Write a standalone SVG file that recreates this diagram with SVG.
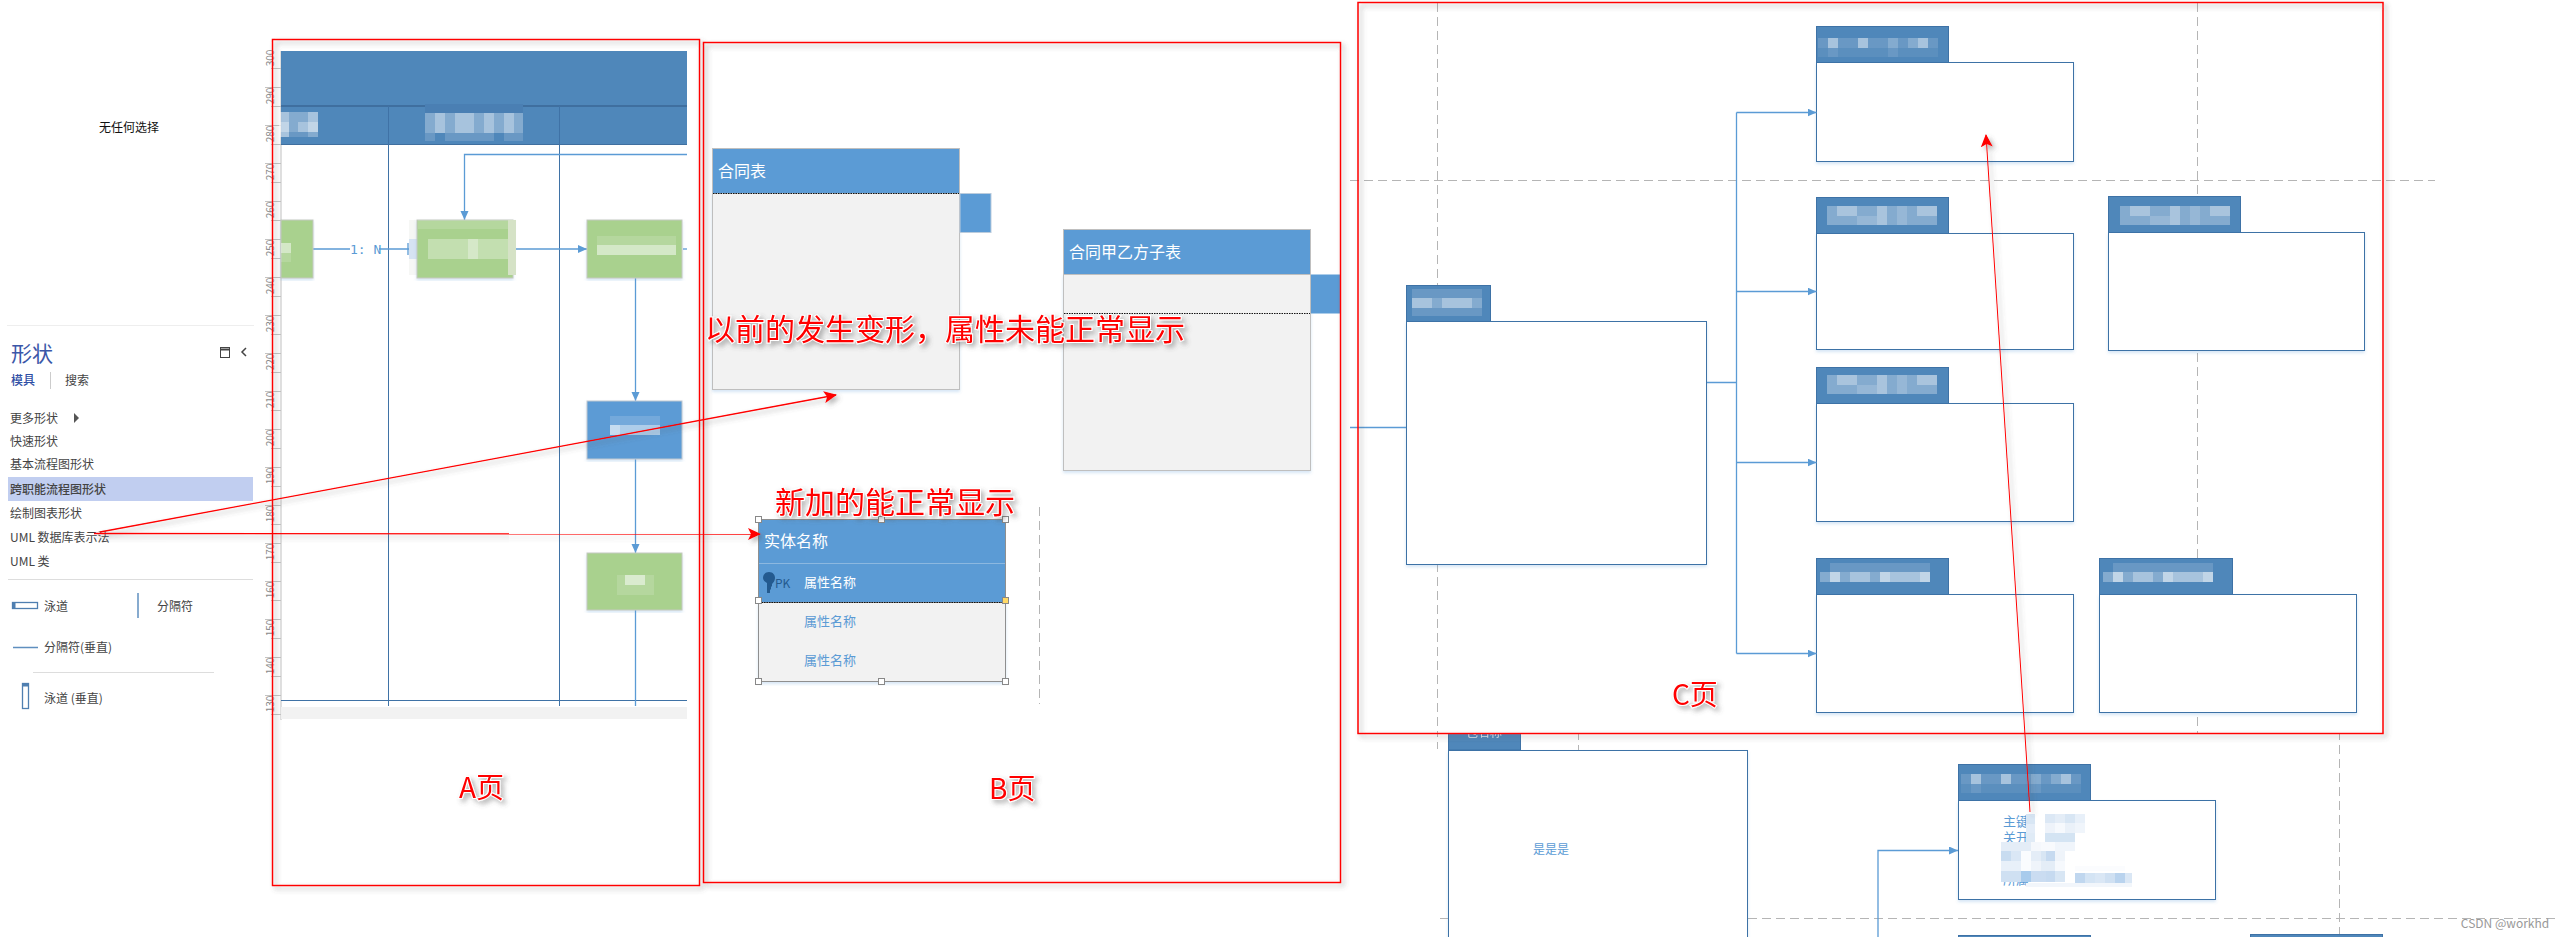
<svg xmlns="http://www.w3.org/2000/svg" width="2559" height="937" viewBox="0 0 2559 937">
<style>
text{font-family:"Noto Sans CJK SC","Liberation Sans",sans-serif;dominant-baseline:central}
.p{font-size:12px;fill:#444}
.rl{font-size:10px;fill:#8a8a8a;text-anchor:middle}
.tick{stroke:#c4c4c4;stroke-width:1;fill:none}
.lane{stroke:#3f72a6;stroke-width:1;fill:none}
.con{stroke:#5b9bd5;stroke-width:1.3;fill:none}
.arr{marker-end:url(#ba)}
.dash{stroke:#b5b5b5;stroke-width:1;stroke-dasharray:9 5;fill:none}
.hdr{fill:#4f87ba}
.grn{fill:#a9d18e;stroke:#c4c9c0;stroke-width:1;filter:url(#soft)}
.blu{fill:#5b9bd5;stroke:#c0c8d0;stroke-width:1;filter:url(#soft)}
.tab{fill:#4f87ba;stroke:#3e72a6;stroke-width:1}
.body{fill:#fff;stroke:#3e72a6;stroke-width:1;filter:url(#soft)}
.thead{fill:#5b9bd5;stroke:#bfbfbf;stroke-width:1}
.tbody{fill:#f2f2f2;stroke:#bfbfbf;stroke-width:1;filter:url(#soft)}
.dot{stroke:#111;stroke-width:1;stroke-dasharray:1.5 1;fill:none}
.tw{font-size:16px;fill:#fff}
.attr{font-size:13px;fill:#5b9bd5}
.page{fill:none;stroke:#f00;stroke-width:1.5;filter:url(#sh)}
.redl{stroke:#f00;stroke-width:1.3;fill:none;filter:url(#sh)}
.note{font-size:30px;fill:#f00;stroke:#fff;stroke-width:2;paint-order:stroke;filter:url(#sh)}
.h{fill:#fff;stroke:#888;stroke-width:1}
.m0{fill:#fff;opacity:.07}.m1{fill:#fff;opacity:.15}.m2{fill:#fff;opacity:.3}.m3{fill:#fff;opacity:.5}.m4{fill:#fff;opacity:.65}
</style>
<defs>
<filter id="sh" x="0" y="0" width="2559" height="937" filterUnits="userSpaceOnUse"><feDropShadow dx="3" dy="3" stdDeviation="2.5" flood-color="#555" flood-opacity=".45"/></filter>
<filter id="soft" x="-5%" y="-5%" width="110%" height="110%"><feDropShadow dx="0" dy="2" stdDeviation="1.5" flood-color="#5b9bd5" flood-opacity=".25"/></filter>
<marker id="ba" markerWidth="10" markerHeight="10" refX="9" refY="4" orient="auto" markerUnits="userSpaceOnUse"><path d="M0 0L9 4L0 8Z" fill="#5b9bd5"/></marker>
<marker id="ra" markerWidth="14" markerHeight="12" refX="12" refY="6" orient="auto" markerUnits="userSpaceOnUse"><path d="M0 0L13 6L0 12L3 6Z" fill="#f00"/></marker>
<g id="mzA">
<path class="m3" d="M10 0h10v10h-10zM40 0h10v10h-10zM100 0h10v10h-10z"/>
<path class="m2" d="M70 0h10v10h-10zM90 0h10v10h-10z"/>
<path class="m1" d="M0 0h10v10h-10zM20 0h20v10h-20zM50 0h20v10h-20zM80 0h10v10h-10zM110 0h10v10h-10zM10 10h10v9h-10zM70 10h10v9h-10z"/>
<path class="m0" d="M0 10h10v9h-10zM20 10h50v9h-50zM80 10h40v9h-40z"/>
</g>
<g id="mzB">
<path class="m1" d="M10 0h100v9h-100z"/>
<path class="m4" d="M10 9h10v10h-10zM60 9h10v10h-10zM100 9h10v10h-10z"/>
<path class="m3" d="M30 9h20v10h-20zM70 9h30v10h-30z"/>
<path class="m2" d="M0 9h10v10h-10zM20 9h10v10h-10zM50 9h10v10h-10z"/>
</g>
<g id="mzC">
<path class="m2" d="M0 0h110v19h-110z"/>
<path class="m2" d="M10 0h20v10h-20zM50 0h10v19h-10zM90 0h20v10h-20z"/>
<path class="m1" d="M30 10h20v9h-20zM70 0h10v19h-10z"/>
</g>
</defs>
<rect width="2559" height="937" fill="#fff"/>

<g id="panel">
<text class="p" x="99" y="126" style="fill:#111">无任何选择</text>
<path d="M7 325.500H254" stroke="#eee"/>
<text x="11" y="351.500" style="font-size:21px;fill:#3b57a8">形状</text>
<rect x="220.500" y="347.500" width="9" height="10" fill="#fff" stroke="#444"/><path d="M220 349.500H230" stroke="#444" stroke-width="2"/>
<path d="M246 348L242 352L246 356" fill="none" stroke="#444" stroke-width="1.500"/>
<text class="p" x="11" y="379" style="fill:#2f4fa5;font-weight:500">模具</text>
<path d="M50.500 372V389" stroke="#ccc"/>
<text class="p" x="65" y="379">搜索</text>
<text class="p" x="10" y="417">更多形状</text><path d="M74 413L79 418L74 423Z" fill="#555"/>
<text class="p" x="10" y="440">快速形状</text>
<text class="p" x="10" y="463">基本流程图形状</text>
<rect x="8" y="477" width="245" height="24" fill="#c1cef0"/>
<text class="p" x="10" y="488" style="font-weight:500">跨职能流程图形状</text>
<text class="p" x="10" y="512">绘制图表形状</text>
<text class="p" x="10" y="536">UML 数据库表示法</text>
<text class="p" x="10" y="560">UML 类</text>
<path d="M8 579.500H253" stroke="#ddd"/>
<rect x="12.500" y="602.500" width="25" height="6" fill="#fff" stroke="#4f7fb0" stroke-width="1.300"/><rect x="12.500" y="602.500" width="3" height="6" fill="#4f7fb0"/>
<text class="p" x="44" y="605">泳道</text>
<path d="M138 593V618" stroke="#5f8fbf" stroke-width="1.500"/>
<text class="p" x="157" y="605">分隔符</text>
<path d="M13 647.500H38" stroke="#5f8fbf" stroke-width="1.500"/>
<text class="p" x="44" y="646">分隔符(垂直)</text>
<path d="M33 672.500H214" stroke="#ddd"/>
<rect x="22.500" y="683.500" width="6" height="25" fill="#fff" stroke="#4f7fb0" stroke-width="1.300"/><rect x="22.500" y="683.500" width="6" height="3" fill="#4f7fb0"/>
<text class="p" x="44" y="697">泳道 (垂直)</text>
</g>

<g id="ruler">
<path class="tick" d="M281 51V720M265 87.500H281M265 125.500H281M265 163.500H281M265 201.500H281M265 239.500H281M265 277.500H281M265 315.500H281M265 353.500H281M265 391.500H281M265 429.500H281M265 467.500H281M265 505.500H281M265 543.500H281M265 581.500H281M265 619.500H281M265 657.500H281M265 695.500H281M271 68.500H281M271 106.500H281M271 144.500H281M271 182.500H281M271 220.500H281M271 258.500H281M271 296.500H281M271 334.500H281M271 372.500H281M271 410.500H281M271 448.500H281M271 486.500H281M271 524.500H281M271 562.500H281M271 600.500H281M271 638.500H281M271 676.500H281M271 714.500H281"/>
<text class="rl" transform="translate(269 58) rotate(-90)">300</text>
<text class="rl" transform="translate(269 96) rotate(-90)">290</text>
<text class="rl" transform="translate(269 134) rotate(-90)">280</text>
<text class="rl" transform="translate(269 172) rotate(-90)">270</text>
<text class="rl" transform="translate(269 210) rotate(-90)">260</text>
<text class="rl" transform="translate(269 248) rotate(-90)">250</text>
<text class="rl" transform="translate(269 286) rotate(-90)">240</text>
<text class="rl" transform="translate(269 324) rotate(-90)">230</text>
<text class="rl" transform="translate(269 362) rotate(-90)">220</text>
<text class="rl" transform="translate(269 400) rotate(-90)">210</text>
<text class="rl" transform="translate(269 438) rotate(-90)">200</text>
<text class="rl" transform="translate(269 476) rotate(-90)">190</text>
<text class="rl" transform="translate(269 514) rotate(-90)">180</text>
<text class="rl" transform="translate(269 552) rotate(-90)">170</text>
<text class="rl" transform="translate(269 590) rotate(-90)">160</text>
<text class="rl" transform="translate(269 628) rotate(-90)">150</text>
<text class="rl" transform="translate(269 666) rotate(-90)">140</text>
<text class="rl" transform="translate(269 704) rotate(-90)">130</text>
</g>

<g id="swimlane">
<rect class="hdr" x="281" y="51" width="406" height="94"/>
<path d="M281 106H687" stroke="#3f6f9f" stroke-width="2"/>
<path d="M281 144.500H687" stroke="#3f6f9f"/>
<rect x="425" y="104" width="98" height="9" fill="#4a7fb3"/>
<path class="m3" d="M279 112h10v10h-10zM308 112h10v10h-10zM298 122h10v10h-10zM279 132h10v5h-10z"/>
<path class="m4" d="M279 122h10v10h-10zM308 122h10v10h-10z"/>
<path class="m2" d="M289 112h9v10h-9zM298 112h10v10h-10zM289 122h9v10h-9zM308 132h10v5h-10z"/>
<path class="m1" d="M289 132h19v5h-19z"/>
<path class="m3" d="M435 113h10v20h-10zM455 113h19v20h-19zM484 113h10v20h-10zM504 113h10v20h-10z"/>
<path class="m2" d="M465 113h0zM425 113h10v20h-10zM445 113h10v20h-10zM474 113h10v20h-10zM494 113h10v20h-10zM514 113h9v20h-9z"/>
<path class="m1" d="M425 133h10v8h-10zM445 133h49v8h-49zM504 133h19v8h-19z"/>
<path class="lane" d="M388.500 106V706M559.500 106V706M281 700.500H687"/>
<rect x="281" y="707" width="406" height="12" fill="#f2f2f2"/>
</g>

<g id="connectors-a">
<path class="con arr" d="M687 154.500H464.500V220"/>
<path class="con" d="M313 249H350M379 249H409M408 243V255"/>
<path class="con arr" d="M516 249H587"/>
<path class="con" d="M683 249H687"/>
<path class="con arr" d="M635.500 278V401"/>
<path class="con arr" d="M635.500 459V553"/>
<path class="con" d="M635.500 610V706"/>
<text x="350" y="249" style="font-size:13px;fill:#5b9bd5;font-family:'DejaVu Sans Mono','Liberation Mono',monospace">1: N</text>
</g>

<g id="node-a1"><rect class="grn" x="281" y="220" width="32" height="58"/><rect class="m3" x="281" y="243" width="10" height="10"/><rect class="m1" x="281" y="253" width="10" height="9"/></g>
<g id="node-a2"><rect x="409" y="220" width="8" height="55" fill="#f6f7f5"/><rect x="409" y="239" width="8" height="20" fill="#d6e3f2"/><rect class="grn" x="417" y="220" width="96" height="58"/><rect class="m1" x="418" y="220" width="90" height="9"/><rect class="m2" x="428" y="239" width="80" height="20"/><rect class="m2" x="468" y="239" width="10" height="20"/><rect x="508" y="220" width="8" height="55" fill="#d5e2c6"/></g>
<g id="node-a3"><rect class="grn" x="587" y="220" width="95" height="58"/><rect class="m1" x="597" y="236" width="79" height="9"/><rect class="m3" x="597" y="245" width="79" height="10"/></g>
<g id="node-a4"><rect class="blu" x="587" y="401" width="95" height="58"/><rect class="m1" x="610" y="416" width="50" height="9"/><rect class="m3" x="610" y="425" width="50" height="10"/><rect class="m2" x="610" y="425" width="10" height="10"/></g>
<g id="node-a5"><rect class="grn" x="587" y="553" width="95" height="57"/><rect class="m1" x="617" y="575" width="37" height="20"/><rect class="m3" x="625" y="575" width="20" height="10"/></g>

<g id="table-contract">
<rect class="tbody" x="712.500" y="193.500" width="247" height="196"/>
<rect class="thead" x="712.500" y="148.500" width="247" height="45"/>
<rect x="960" y="193.500" width="31" height="39" fill="#5b9bd5" stroke="#bcd"/>
<path class="dot" d="M713 193.500H959"/>
<text class="tw" x="718" y="169.500">合同表</text>
</g>
<g id="table-party">
<rect class="tbody" x="1063.500" y="274.500" width="247" height="196"/>
<rect class="thead" x="1063.500" y="229.500" width="247" height="45"/>
<rect x="1311" y="274.500" width="30" height="39" fill="#5b9bd5"/>
<path class="dot" d="M1064 313.500H1310"/>
<text class="tw" x="1069" y="250.500">合同甲乙方子表</text>
</g>
<g id="table-entity">
<rect class="tbody" x="758.500" y="602.500" width="247" height="79" style="stroke:#8f8f8f"/>
<rect x="758.500" y="519.500" width="247" height="83" fill="#5b9bd5" stroke="#8f8f8f"/>
<path d="M759 563.500H1005" stroke="#8cb8e0"/>
<path class="dot" d="M759 602.500H1005"/>
<text class="tw" x="764" y="539.500">实体名称</text>
<path d="M769 572c4 0 6 3 6 6c0 3-2 5-3 6v2l-1 1v2l-1 1v3h-3v-10c-2-1-4-3-4-5c0-3 2-6 6-6z" fill="#245a8f"/>
<text x="775" y="582" style="font-size:12px;fill:#245a8f">PK</text>
<text class="attr" x="804" y="581.500" style="fill:#fff">属性名称</text>
<text class="attr" x="804" y="620.500">属性名称</text>
<text class="attr" x="804" y="659.500">属性名称</text>
<rect class="h" x="755.500" y="516.500" width="6" height="6"/><rect class="h" x="878.500" y="516.500" width="6" height="6"/><rect class="h" x="1002.500" y="516.500" width="6" height="6"/>
<rect class="h" x="755.500" y="597.500" width="6" height="6"/><rect class="h" x="1002.500" y="597.500" width="6" height="6" style="fill:#ffd966"/>
<rect class="h" x="755.500" y="678.500" width="6" height="6"/><rect class="h" x="878.500" y="678.500" width="6" height="6"/><rect class="h" x="1002.500" y="678.500" width="6" height="6"/>
</g>
<path class="dash" d="M1039.500 507V704"/>

<g id="lower-page">
<path class="dash" d="M1437.500 0V749M1578.500 731V750M2339.500 731V937M1440 918.500H2559"/>
<g id="pkg-name"><rect class="tab" x="1448.500" y="720" width="72" height="30"/><text x="1484" y="731.500" text-anchor="middle" style="font-size:12px;fill:#fff;opacity:.8">包名称</text><rect class="body" x="1448.500" y="750.500" width="299" height="200"/><text x="1551" y="848.500" text-anchor="middle" style="font-size:12px;fill:#5b9bd5">是是是</text></g>
<g id="pkg-main"><rect class="tab" x="1958.500" y="764.500" width="132" height="36"/><use href="#mzA" transform="translate(1961 774)"/><rect class="body" x="1958.500" y="800.500" width="257" height="99"/>
<text x="2003" y="820.500" style="font-size:13px;fill:#5b9bd5">主键</text><text x="2003" y="836.500" style="font-size:13px;fill:#5b9bd5">关开</text><text x="2003" y="878.500" style="font-size:13px;fill:#5b9bd5">所属</text>
<rect x="2026" y="814" width="9" height="10" fill="#d8e6f4"/><rect x="2026" y="824" width="9" height="9" fill="#e4edf8"/><rect x="2026" y="833" width="9" height="9" fill="#e0ebf6"/><rect x="2035" y="814" width="10" height="28" fill="#fff"/>
<rect x="2045" y="814" width="10" height="9" fill="#dce8f5"/><rect x="2055" y="814" width="10" height="9" fill="#e4edf7"/><rect x="2065" y="814" width="10" height="9" fill="#d8e6f4"/><rect x="2075" y="814" width="10" height="9" fill="#e8f0f9"/>
<rect x="2045" y="823" width="10" height="10" fill="#eef3fa"/><rect x="2055" y="823" width="10" height="10" fill="#f6f9fd"/><rect x="2065" y="823" width="10" height="10" fill="#eaf1f9"/><rect x="2075" y="823" width="10" height="10" fill="#f0f5fb"/>
<rect x="2045" y="833" width="30" height="10" fill="#d4e4f3"/>
<rect x="2001" y="842" width="30" height="9" fill="#e4edf7"/><rect x="2031" y="842" width="10" height="9" fill="#f5f8fc"/><rect x="2041" y="842" width="14" height="9" fill="#f8fafd"/><rect x="2055" y="842" width="20" height="9" fill="#f0f5fb"/>
<rect x="2001" y="851" width="10" height="10" fill="#c8dcf0"/><rect x="2011" y="851" width="10" height="10" fill="#dae7f5"/><rect x="2021" y="851" width="10" height="31" fill="#fafcfe"/><rect x="2031" y="851" width="10" height="10" fill="#e4edf7"/><rect x="2041" y="851" width="5" height="10" fill="#d8e6f4"/><rect x="2046" y="851" width="9" height="10" fill="#c6daf0"/><rect x="2055" y="851" width="10" height="10" fill="#eff4fa"/>
<rect x="2001" y="861" width="20" height="10" fill="#e8f0f9"/><rect x="2031" y="861" width="10" height="10" fill="#eff4fa"/><rect x="2041" y="861" width="14" height="10" fill="#e4edf7"/><rect x="2055" y="861" width="10" height="10" fill="#f6f9fd"/><rect x="2075" y="866" width="50" height="5" fill="#fbfcfe"/>
<rect x="2001" y="871" width="20" height="11" fill="#cfe0f2"/><rect x="2021" y="871" width="10" height="11" fill="#a8cbec"/><rect x="2031" y="871" width="15" height="11" fill="#cadcf1"/><rect x="2046" y="871" width="9" height="11" fill="#c6daf0"/><rect x="2055" y="871" width="10" height="11" fill="#d8e6f4"/>
<rect x="2075" y="873" width="10" height="10" fill="#c0d7ef"/><rect x="2085" y="873" width="10" height="10" fill="#d4e4f4"/><rect x="2095" y="873" width="10" height="10" fill="#dae7f5"/><rect x="2105" y="873" width="10" height="10" fill="#cfe0f2"/><rect x="2115" y="873" width="10" height="10" fill="#b9d3ee"/><rect x="2125" y="873" width="7" height="10" fill="#dae7f5"/>
<rect x="2026" y="883" width="106" height="4" fill="#f2f6fb"/></g>
<path class="con arr" d="M1878 937V850.500H1958"/>
<rect class="tab" x="1958.500" y="935.500" width="132" height="3"/><rect class="tab" x="2250.500" y="934.500" width="132" height="4"/>
<text x="2505" y="922" text-anchor="middle" style="font-size:12px;fill:#999">CSDN @workhd</text>
</g>

<g id="page-c">
<rect x="1350" y="0" width="1040" height="733" fill="#fff"/>
<path class="dash" d="M1437.500 3V733M2197.500 3V733M1350 180.500H2435"/>
<g id="pkg-1"><rect class="tab" x="1816.500" y="26.500" width="132" height="36"/><use href="#mzA" transform="translate(1818 38)"/><rect class="body" x="1816.500" y="62.500" width="257" height="99"/></g>
<g id="pkg-2"><rect class="tab" x="1816.500" y="197.500" width="132" height="36"/><use href="#mzC" transform="translate(1827 206)"/><rect class="body" x="1816.500" y="233.500" width="257" height="116"/></g>
<g id="pkg-3"><rect class="tab" x="2108.500" y="196.500" width="132" height="36"/><use href="#mzC" transform="translate(2120 206)"/><rect class="body" x="2108.500" y="232.500" width="256" height="118"/></g>
<g id="pkg-4"><rect class="tab" x="1816.500" y="367.500" width="132" height="36"/><use href="#mzC" transform="translate(1827 375)"/><rect class="body" x="1816.500" y="403.500" width="257" height="118"/></g>
<g id="pkg-5"><rect class="tab" x="1816.500" y="558.500" width="132" height="36"/><use href="#mzB" transform="translate(1820 563)"/><rect class="body" x="1816.500" y="594.500" width="257" height="118"/></g>
<g id="pkg-6"><rect class="tab" x="2099.500" y="558.500" width="133" height="36"/><use href="#mzB" transform="translate(2103 563)"/><rect class="body" x="2099.500" y="594.500" width="257" height="118"/></g>
<g id="pkg-main-left"><rect class="tab" x="1406.500" y="285.500" width="84" height="36"/><rect class="m1" x="1412" y="289" width="70" height="9"/><path class="m3" d="M1412 298h20v10h-20zM1442 298h30v10h-30z"/><path class="m2" d="M1432 298h10v10h-10zM1472 298h10v10h-10z"/><rect class="m1" x="1412" y="308" width="70" height="8"/><rect class="body" x="1406.500" y="321.500" width="300" height="243"/></g>
<g id="connectors-c">
<path class="con" d="M1350 427.500H1406M1707 382.500H1736.500M1736.500 112.500V653.500"/>
<path class="con arr" d="M1736.500 112.500H1816.500"/>
<path class="con arr" d="M1736.500 291.500H1816.500"/>
<path class="con arr" d="M1736.500 462.500H1816.500"/>
<path class="con arr" d="M1736.500 653.500H1816.500"/>
</g>
</g>

<g id="annotations">
<rect class="page" x="272.500" y="39.500" width="427" height="846"/>
<rect class="page" x="703.500" y="42.500" width="637" height="840"/>
<rect class="page" x="1358" y="2.500" width="1025" height="731"/>
<path class="redl" d="M100 532L836 395" marker-end="url(#ra)"/>
<path class="redl" d="M94 533.500L760 534" marker-end="url(#ra)"/>
<path class="redl" d="M2030 812L1986 135" marker-end="url(#ra)" style="stroke-width:1"/>
<text class="note" x="705" y="327">以前的发生变形，属性未能正常显示</text>
<text class="note" x="775" y="500">新加的能正常显示</text>
<text class="note" x="459" y="786" style="font-size:28px">A页</text>
<text class="note" x="989" y="787" style="font-size:28px">B页</text>
<text class="note" x="1672" y="693" style="font-size:28px">C页</text>
</g>
</svg>
